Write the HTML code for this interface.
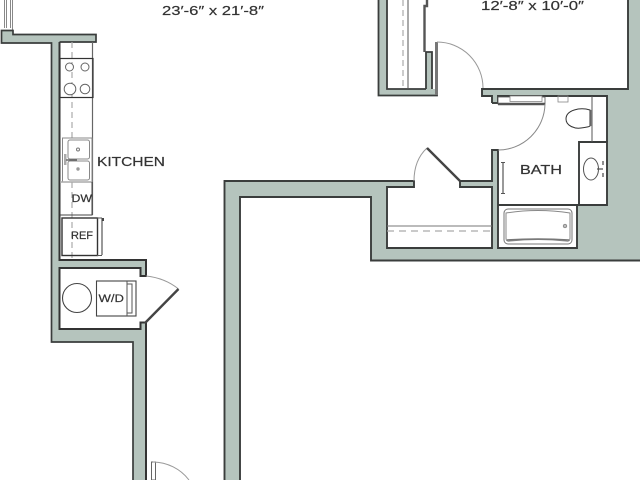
<!DOCTYPE html>
<html>
<head>
<meta charset="utf-8">
<style>
html,body{margin:0;padding:0;background:#fff;width:640px;height:480px;overflow:hidden}
svg{display:block}
text{font-family:"Liberation Sans",sans-serif;fill:#333;stroke:#333;stroke-width:.2}
</style>
</head>
<body>
<svg width="640" height="480" viewBox="0 0 640 480" xmlns="http://www.w3.org/2000/svg">
<rect width="640" height="480" fill="#fff"/>
<!-- window top-left -->
<g fill="none" stroke="#888" stroke-width="1">
<path d="M4.500 0V28M6.500 0V28M10.500 0V28M12.500 0V30"/>
</g>
<!-- kitchen / laundry walls -->
<path d="M1.500 30.500H13V34.500H96V42H59.500V260H146V276H140.500V268H59.500V329H140.500V322.500H146V480H133V342H52V43H1.500Z" fill="#b5c4bd"/>
<path d="M59.500 42H96V34.500H13V30.500H1.500V43H51.500V342H133V480" fill="none" stroke="#3a3d3c" stroke-width="1.700"/>
<path d="M59.500 42V260H146V276H140.500V268H59.500V329H140.500V322.500H146V480" fill="none" stroke="#333" stroke-width="2"/>
<!-- corridor right wall + closet + bath mass -->
<path d="M224 480V181H414V187H387V248H498V205H579V205H607V96H498V104H492V96H482V89H628V0H640V261H371V197H240V480Z" fill="#b5c4bd"/>
<path d="M460 181H492V150H498V248H492V187H460Z" fill="#b5c4bd"/>
<rect x="498" y="205" width="79" height="43" fill="#fff"/>
<rect x="577" y="205" width="3" height="43" fill="#b5c4bd"/>
<g fill="none" stroke="#3a3d3c" stroke-width="1.900">
<path d="M224.500 480V181H414V187H387V248H492V187H460V181H492V150H498V205"/>
<path d="M240 480V197H371V260.500H640"/>
<path d="M498 205V248H577V205"/>
<path d="M498 205H579V142H607V205H579"/>
<path d="M607 142V96H498V103"/>
<path d="M492 103V96H482V89H628V0"/>
<path d="M492 103H498"/>
</g>
<!-- bedroom closet walls -->
<path d="M378 0H387V89H426V52H432V89H438V95.500H378Z" fill="#b5c4bd"/>
<g fill="none" stroke="#3a3d3c" stroke-width="1.800">
<path d="M378.500 0V95.500H437V89"/>
<path d="M387 0V89H426"/>
<path d="M426 89V52H432V89"/>
</g>
<line x1="408" y1="0" x2="408" y2="89" stroke="#555" stroke-width="1"/>
<line x1="403" y1="0" x2="403" y2="89" stroke="#aaa" stroke-width="1.200" stroke-dasharray="6 4"/>
<path d="M424.500 52V6H427V0" fill="none" stroke="#555" stroke-width="2.400"/>
<!-- closet door near bedroom -->
<rect x="435" y="42" width="3" height="53" fill="#777"/>
<path d="M437 42A46 46 0 0 1 483 88" fill="none" stroke="#999" stroke-width="1"/>
<!-- kitchen counter -->
<path d="M92.500 42V215" fill="none" stroke="#666" stroke-width="1.200"/>
<line x1="72" y1="42" x2="72" y2="258" stroke="#aaa" stroke-width="1.200" stroke-dasharray="6 4"/>
<rect x="60" y="58.500" width="33" height="39" fill="none" stroke="#333" stroke-width="1.200"/>
<g fill="#fff" stroke="#666" stroke-width="1">
<circle cx="69.500" cy="67" r="4"/>
<circle cx="85" cy="67" r="4"/>
<circle cx="70" cy="89" r="5.800"/>
<circle cx="85" cy="89" r="4.800"/>
</g>
<rect x="62.500" y="138" width="29.500" height="44" fill="none" stroke="#888" stroke-width="1"/>
<rect x="68" y="140" width="21.500" height="19" rx="2" fill="#fff" stroke="#888" stroke-width="1"/>
<rect x="68" y="161" width="21.500" height="19" rx="2" fill="#fff" stroke="#888" stroke-width="1"/>
<circle cx="78" cy="149.500" r="1.500" fill="none" stroke="#777"/>
<circle cx="78" cy="169" r="1.700" fill="#999"/>
<rect x="64" y="154" width="2.500" height="11" fill="#aaa"/>
<line x1="66" y1="160" x2="77" y2="160" stroke="#666" stroke-width="1.500"/>
<line x1="60" y1="182" x2="92" y2="182" stroke="#aaa" stroke-width="1.500"/>
<path d="M60 215H92V182" fill="none" stroke="#444" stroke-width="1"/>
<!-- ref -->
<rect x="62" y="218" width="35.500" height="37.500" fill="none" stroke="#333" stroke-width="1.400"/>
<line x1="102" y1="218" x2="102" y2="255" stroke="#555" stroke-width="1.200"/>
<path d="M97 218H102M97 255.500H102" stroke="#555" stroke-width="1"/>
<rect x="102" y="218" width="2" height="3" fill="#444"/>
<!-- W/D -->
<circle cx="77" cy="298" r="14.500" fill="#fff" stroke="#444" stroke-width="1.100"/>
<rect x="96.500" y="281" width="39.500" height="35" fill="#fff" stroke="#444" stroke-width="1.100"/>
<line x1="127" y1="281" x2="127" y2="316" stroke="#555" stroke-width="1"/>
<rect x="127" y="284" width="5" height="29" fill="none" stroke="#555" stroke-width="1"/>
<path d="M146 276Q165 278 178.500 289" fill="none" stroke="#999" stroke-width="1"/>
<line x1="178.500" y1="289" x2="145" y2="323" stroke="#444" stroke-width="2.400"/>
<!-- closet door -->
<path d="M414 181Q414 160 427 148" fill="none" stroke="#999" stroke-width="1"/>
<line x1="427" y1="148" x2="460" y2="181" stroke="#444" stroke-width="2.400"/>
<line x1="387" y1="226" x2="492" y2="226" stroke="#777" stroke-width="1"/>
<line x1="387" y1="231" x2="492" y2="231" stroke="#aaa" stroke-width="1.200" stroke-dasharray="7 5"/>
<!-- bath details -->
<rect x="498" y="97" width="47" height="7" fill="#fff" stroke="#555" stroke-width="0.800"/>
<rect x="510" y="96" width="32" height="5.500" fill="#fff" stroke="#888" stroke-width="0.800"/>
<line x1="498" y1="104" x2="545" y2="104" stroke="#555" stroke-width="2.400"/>
<rect x="558" y="96" width="10" height="6" fill="none" stroke="#888" stroke-width="0.800"/>
<path d="M545 104A47 47 0 0 1 498 150" fill="none" stroke="#888" stroke-width="1"/>
<line x1="592" y1="96" x2="592" y2="142" stroke="#555" stroke-width="1"/>
<path d="M590 110C580 107 566 110 566 119C566 126 575 129 581 128C585 127.500 589 127 590 126Z" fill="#fff" stroke="#333" stroke-width="1"/>
<line x1="591" y1="110" x2="591" y2="126" stroke="#999" stroke-width="1"/>
<ellipse cx="591" cy="169" rx="7.500" ry="11" fill="#fff" stroke="#555" stroke-width="1"/>
<path d="M597 169H603M603 161V165M603 173V177" stroke="#555" stroke-width="1.300"/>
<path d="M503 162V194" stroke="#777" stroke-width="1.500"/>
<path d="M501 162.500H505M501 193.500H505" stroke="#555" stroke-width="1"/>
<!-- tub -->
<rect x="504" y="209" width="68" height="35" rx="4" fill="#fff" stroke="#777" stroke-width="1"/>
<path d="M506 213Q538 208 570 213V238Q570 242 566 241Q538 238 510 241Q506 242 506 238Z" fill="#fff" stroke="#888" stroke-width="1"/>
<path d="M507 240Q538 238 569 240" fill="none" stroke="#777" stroke-width="1.500"/>
<circle cx="565" cy="226" r="1.800" fill="#bbb" stroke="#777" stroke-width="0.700"/>
<!-- entry door -->
<rect x="151.500" y="462" width="4" height="18" fill="#fff" stroke="#666" stroke-width="1"/>
<path d="M153 462A46 46 0 0 1 189 480" fill="none" stroke="#999" stroke-width="1"/>
<!-- labels -->
<text x="162" y="15" font-size="13" textLength="102" lengthAdjust="spacingAndGlyphs">23′-6″ x 21′-8″</text>
<text x="481" y="10" font-size="13" textLength="103" lengthAdjust="spacingAndGlyphs">12′-8″ x 10′-0″</text>
<text x="97" y="166" font-size="12.500" textLength="68" lengthAdjust="spacingAndGlyphs">KITCHEN</text>
<text x="520" y="174" font-size="12.500" textLength="42" lengthAdjust="spacingAndGlyphs">BATH</text>
<text x="71.500" y="202" font-size="11" textLength="20.500" lengthAdjust="spacingAndGlyphs">DW</text>
<text x="71" y="239" font-size="11" textLength="22" lengthAdjust="spacingAndGlyphs">REF</text>
<text x="98.500" y="302" font-size="11" textLength="25.500" lengthAdjust="spacingAndGlyphs">W/D</text>
</svg>
</body>
</html>
